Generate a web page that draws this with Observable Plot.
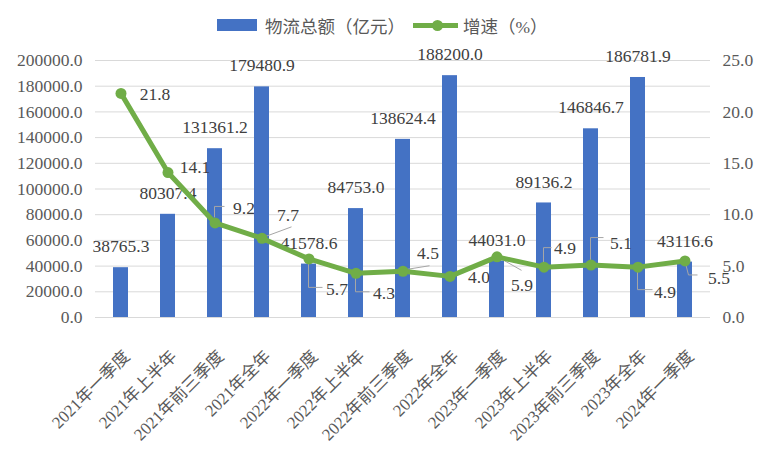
<!DOCTYPE html>
<html>
<head>
<meta charset="utf-8">
<script src="https://cdn.jsdelivr.net/npm/d3@7"></script>
<script src="https://cdn.jsdelivr.net/npm/@observablehq/plot@0.6"></script>
<style>
  body { margin: 0; background: #fff; }
  #wrap { position: relative; width: 767px; height: 451px; overflow: hidden;
          font-family: "Liberation Serif", "Noto Sans CJK SC", serif; color: #595959; }
  #legend { position: relative; width: 767px; height: 36px; font-size: 17.5px; }
  #legend .sw-bar { position: absolute; left: 217px; top: 19px; width: 40px; height: 12px; background: #4472C4; }
  #legend .t1 { position: absolute; left: 265px; top: 15px; line-height: 24px; white-space: nowrap; }
  #legend .sw-line { position: absolute; left: 413px; top: 22.5px; width: 45px; height: 5px; background: #70AD47; }
  #legend .sw-dot { position: absolute; left: 431.5px; top: 19.5px; width: 11px; height: 11px; border-radius: 50%; background: #70AD47; }
  #legend .t2 { position: absolute; left: 463px; top: 15px; line-height: 24px; white-space: nowrap; }
  #chart svg { display: block; }
</style>
</head>
<body>
<div id="wrap">
  <div id="legend">
    <div class="sw-bar"></div><span class="t1">物流总额（亿元）</span>
    <div class="sw-line"></div><div class="sw-dot"></div><span class="t2">增速（%）</span>
  </div>
  <div id="chart"></div>
</div>
<script>
// ---- data ----
const categories = ["2021年一季度", "2021年上半年", "2021年前三季度", "2021年全年",
                    "2022年一季度", "2022年上半年", "2022年前三季度", "2022年全年",
                    "2023年一季度", "2023年上半年", "2023年前三季度", "2023年全年",
                    "2024年一季度"];
const totals = [38765.3, 80307.4, 131361.2, 179480.9, 41578.6, 84753.0, 138624.4,
                188200.0, 44031.0, 89136.2, 146846.7, 186781.9, 43116.6];
const growth = [21.8, 14.1, 9.2, 7.7, 5.7, 4.3, 4.5, 4.0, 5.9, 4.9, 5.1, 4.9, 5.5];
const leftTicks = [0, 20000, 40000, 60000, 80000, 100000, 120000, 140000, 160000, 180000, 200000];
const rightTicks = [0, 5, 10, 15, 20, 25];

// ---- layout (label placement, px offsets from each point) ----
const ratio = 200000 / 25;
const lineLabelOffsets = [[34, 1], [27, -5], [29, -15], [26, -23], [28, 30], [28, 20], [25, -18],
                          [29, 1], [25, 29], [21, -19], [30, -22], [27, 25], [34, 17]];
const leaders = [null, null,
  [[0, -5], [0, -16], [10, -16]],
  [[3, -1], [30, -11]],
  [[0, 0], [0, 29], [14, 29]],
  [[0, 0], [0, 19], [14, 19]],
  [[2, -1], [27, -5]],
  null,
  [[2, 1], [25, 14]],
  [[0, 0], [0, -19], [8, -19]],
  [[0, 0], [0, -27], [13, -27]],
  [[0, 0], [0, 23], [15, 23]],
  [[1, 3], [4, 14.5], [13, 14.5]]
];

const rows = categories.map((c, i) => ({cat: c, total: totals[i], growth: growth[i], gy: growth[i] * ratio}));
const font = '"Liberation Serif", "Noto Sans CJK SC", serif';

const lineLabelMarks = rows.map((d, i) => Plot.text([d], {
  x: "cat", y: "gy", text: r => r.growth.toFixed(1),
  dx: lineLabelOffsets[i][0], dy: lineLabelOffsets[i][1],
  fill: "#404040", fontSize: 17.5
}));

const plot = Plot.plot({
  width: 767, height: 415,
  marginTop: 24, marginBottom: 134, marginLeft: 95, marginRight: 57,
  style: {fontFamily: font, fontSize: "17.5px", color: "#595959", background: "#fff", overflow: "visible"},
  x: {domain: categories, paddingInner: 0.683, paddingOuter: 0.3415, label: null},
  y: {domain: [0, 200000], label: null},
  marks: [
    Plot.ruleY(leftTicks, {stroke: "#d9d9d9", strokeWidth: 1}),
    Plot.barY(rows, {x: "cat", y: "total", fill: "#4472C4"}),
    Plot.text(rows, {x: "cat", y: "total", text: d => d.total.toFixed(1), dy: -21, fill: "#404040", fontSize: 17.5}),
    Plot.line(rows, {x: "cat", y: "gy", stroke: "#70ad47", strokeWidth: 5}),
    Plot.dot(rows, {x: "cat", y: "gy", r: 5.5, fill: "#70ad47"}),
    ...lineLabelMarks,
    Plot.axisY({anchor: "left", ticks: leftTicks, tickFormat: d => d.toFixed(1), tickSize: 0, tickPadding: 13, label: null, fill: "#595959", fontSize: 17.5}),
    Plot.axisY({anchor: "right", ticks: rightTicks.map(t => t * ratio), tickFormat: d => (d / ratio).toFixed(1), tickSize: 0, tickPadding: 12, label: null, fill: "#595959", fontSize: 17.5}),
    Plot.axisX({anchor: "bottom", tickRotate: -45, tickSize: 0, tickPadding: 36, dx: 6, textAnchor: "end", lineAnchor: "middle", label: null, fill: "#595959", fontSize: 17})
  ]
});

document.getElementById("chart").appendChild(plot);

// leader lines drawn with the plot's own scales
const sx = plot.scale("x"), sy = plot.scale("y");
const lineG = plot.querySelector('g[stroke="#70ad47"]');
const lg = d3.create("svg:g").attr("fill", "none").attr("stroke", "#a6a6a6").attr("stroke-width", 1);
rows.forEach((d, i) => {
  if (!leaders[i]) return;
  const px = sx.apply(d.cat) + sx.bandwidth / 2;
  const py = sy.apply(d.gy);
  lg.append("path").attr("d", d3.line()(leaders[i].map(([dx, dy]) => [px + dx, py + dy])));
});
if (lineG) lineG.parentNode.insertBefore(lg.node(), lineG); else plot.appendChild(lg.node());
</script>
</body>
</html>
